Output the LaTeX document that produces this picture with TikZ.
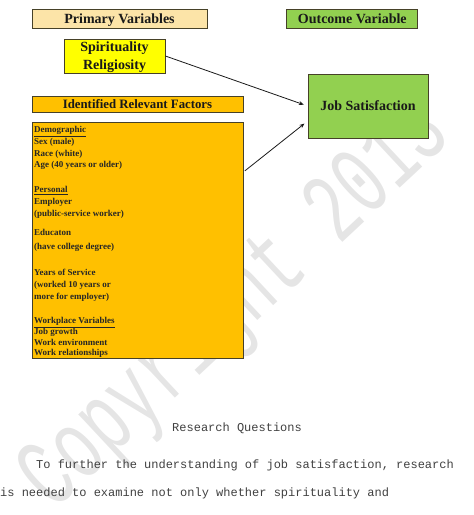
\documentclass[tikz,border=0pt]{standalone}
\usepackage{fontspec}
\setmainfont{Liberation Serif}
\newfontfamily\monofont{Liberation Mono}
\usepackage{xcolor}
\definecolor{peach}{RGB}{252,228,168}
\definecolor{boxyellow}{RGB}{255,255,0}
\definecolor{boxorange}{RGB}{255,192,0}
\definecolor{boxgreen}{RGB}{146,208,80}
\definecolor{edgegray}{RGB}{70,65,40}
\usepackage{tikz}
\usetikzlibrary{arrows.meta,positioning}

\begin{document}
\begin{tikzpicture}[x=1pt, y=-1pt,
    hdr/.style={rectangle, draw=edgegray, line width=0.8pt, inner sep=0pt,
                align=center, text=black!90, text depth=0pt,
                font=\fontsize{14}{18}\selectfont\bfseries},
    item/.style={anchor=north west, inner sep=0pt, align=left, text=black!85,
                 font=\fontsize{9}{11.8}\selectfont\bfseries},
    arr/.style={-{Stealth[length=5pt,width=4pt]}, line width=0.8pt, black!90},
    mono/.style={anchor=base west, inner sep=0pt, text=black!75,
                 font=\monofont\fontsize{12}{14}\selectfont},
  ]
  \useasboundingbox (0,0) rectangle (474,515);

  %% watermark, behind everything
  \node[rotate=43, xscale=0.65, transform shape, text=black!10,
        font=\monofont\fontsize{100}{100}\selectfont] (wm) at (236,306) {Copyright 2013};

  %% top row
  \node[hdr, fill=peach, minimum width=175pt, minimum height=19pt] (prim) at (119.5,18.5) {Primary Variables};
  \node[hdr, fill=boxgreen, minimum width=131pt, minimum height=19pt, right=79pt of prim] (outc) {Outcome Variable};

  \node[hdr, fill=boxyellow, minimum width=101pt, minimum height=34pt] (spir) at (114.5,56) {Spirituality\\Religiosity};

  \node[hdr, fill=boxgreen, minimum width=120pt, minimum height=64pt] (job) at (368,106) {Job Satisfaction};

  %% factors
  \node[hdr, fill=boxorange, minimum width=211pt, minimum height=16pt,
        font=\fontsize{12.8}{15}\selectfont\bfseries] (iden) at (137.5,104) {Identified Relevant Factors};
  \node[hdr, fill=boxorange, minimum width=211pt, minimum height=236pt, below=10pt of iden] (fact) {};

  \node[item] (demo) at (34,126) {\underline{Demographic}\\Sex (male)\\Race (white)\\Age (40 years or older)};
  \node[item] (pers) at (34,186) {\underline{Personal}\\Employer\\(public-service worker)};
  \node[item] (educ) at (34,229) {Educaton\\[2pt](have college degree)};
  \node[item] (serv) at (34,269) {Years of Service\\(worked 10 years or\\more for employer)};
  \node[item, font=\fontsize{9}{10.8}\selectfont\bfseries] (work) at (34,317)
    {\underline{Workplace Variables}\\Job growth\\Work environment\\Work relationships};

  \draw[arr, shorten >=4pt] (spir.east) -- (job.west);
  \draw[arr, shorten <=2pt, shorten >=4pt] (fact.33) -- (job.194);

  %% text below the figure
  \node[mono] (rq) at (172,431) {Research Questions};
  \node[mono] (para1) at (36,468) {To further the understanding of job satisfaction, research};
  \node[mono] (para2) at (0,496) {is needed to examine not only whether spirituality and};

\end{tikzpicture}
\end{document}
